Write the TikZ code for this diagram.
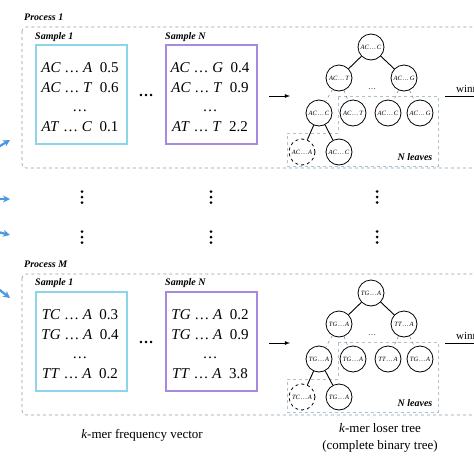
\documentclass[tikz,border=0pt]{standalone}
\usepackage{fontspec}
\setmainfont{Liberation Serif}
\usetikzlibrary{arrows.meta,shadows}

\definecolor{sampblue}{HTML}{8DD3EA}
\definecolor{samppurple}{HTML}{A78AE0}
\definecolor{procgray}{HTML}{8C9CAA}
\definecolor{leafgray}{HTML}{A9C2CE}
\definecolor{arrblue}{HTML}{4A98E0}

\begin{document}
\begin{tikzpicture}[x=1pt, y=-1pt,
    proc/.style={draw=procgray, dashed, rounded corners=4pt, line width=0.6pt},
    lbl/.style={font=\fontsize{10}{12}\selectfont\bfseries\itshape, inner sep=0pt, anchor=west},
    samp/.style={draw=#1, line width=1.4pt, fill=white, minimum width=91pt, minimum height=99pt,
                 drop shadow={opacity=0.25, shadow xshift=1pt, shadow yshift=-1pt}},
    rows/.style={font=\fontsize{15}{19.5}\selectfont, align=center, inner sep=0pt},
    kn/.style={draw, circle, line width=0.8pt, minimum size=26pt, inner sep=0pt,
               font=\fontsize{6.5}{7}\selectfont\itshape},
    kd/.style={kn, dashed},
    solid edge/.style={line width=0.9pt},
    dash edge/.style={draw=gray, dashed, line width=0.5pt},
    leaves/.style={draw=leafgray, dashed, line width=0.6pt},
    vdot/.style={circle, fill, inner sep=0pt, minimum size=3pt},
    bigarr/.style={arrblue, line width=2.2pt, -{Stealth[length=7pt, width=7pt]}},
    captxt/.style={font=\fontsize{13}{17}\selectfont, align=center, inner sep=0pt}]

    \useasboundingbox (0,0) rectangle (474,474);
    \clip (0,0) rectangle (474,474);

    % incoming arrows at the left edge
    \coordinate (i1s) at (-10,152); \coordinate (i1e) at (10,140);
    \coordinate (i2s) at (-10,199); \coordinate (i2e) at (10,199);
    \coordinate (i3s) at (-10,230); \coordinate (i3e) at (10,235);
    \coordinate (i4s) at (-8,284);  \coordinate (i4e) at (10,298);
    \draw[bigarr] (i1s) -- (i1e);
    \draw[bigarr] (i2s) -- (i2e);
    \draw[bigarr] (i3s) -- (i3e);
    \draw[bigarr] (i4s) -- (i4e);

    % ---------- Process 1 ----------
    \draw[proc] (22,27) rectangle (495,168);
    \node[lbl] (p1) at (24,17) {Process 1};
    \node[lbl] (p1s1l) at (35,37) {Sample 1};
    \node[lbl] (p1sNl) at (165,37) {Sample N};
    \node[samp=sampblue]   (p1s1) at (81.5,94.5) {};
    \node[samp=samppurple] (p1sN) at (211.5,94.5) {};
    \node[rows] (p1r1) at (80,97) {\textit{AC} … \textit{A}\enspace 0.5\\ \textit{AC} … \textit{T}\enspace 0.6\\ …\\ \textit{AT} … \textit{C}\enspace 0.1};
    \node[rows] (p1rN) at (210,97) {\textit{AC} … \textit{G}\enspace 0.4\\ \textit{AC} … \textit{T}\enspace 0.9\\ …\\ \textit{AT} … \textit{T}\enspace 2.2};
    \node[rows] (p1dots) at (146,95) {\textbf{…}};
    \coordinate (p1as) at (269,96); \coordinate (p1ae) at (290,96);
    \draw[line width=0.8pt, -latex] (p1as) -- (p1ae);

    \draw[leaves] (338,96) -- (438,96) -- (438,166) -- (287,166) -- (287,133) -- (338,133) -- cycle;
    \node[kn] (t1r)  at (371,47)  {AC\,…\,C};
    \node[kn] (t1a)  at (339,78)  {AC\,…\,T};
    \node[kn] (t1b)  at (404,78)  {AC\,…\,G};
    \node[kn] (t1aa) at (319,113) {AC\,…\,C};
    \node[kn] (t1ab) at (353,113) {AC\,…\,T};
    \node[kn] (t1ba) at (388,113) {AC\,…\,C};
    \node[kn] (t1bb) at (420,113) {AC\,…\,G};
    \node[kd] (t1x)  at (302,152) {AC\,…\,A};
    \node[kn] (t1y)  at (339,152) {AC\,…\,C};
    \node[font=\fontsize{8}{8}\selectfont, inner sep=0pt] (t1dots) at (372,89) {…};
    \node[lbl, anchor=center] (t1n) at (415,157) {N leaves};
    \draw[solid edge] (t1r) -- (t1a);
    \draw[solid edge] (t1r) -- (t1b);
    \draw[dash edge] (t1a) -- (t1aa);
    \draw[dash edge] (t1a) -- (t1ab);
    \draw[dash edge] (t1b) -- (t1ba);
    \draw[dash edge] (t1b) -- (t1bb);
    \draw[solid edge] (t1aa) -- (t1x);
    \draw[solid edge] (t1aa) -- (t1y);
    \coordinate (w1s) at (445,96); \coordinate (w1e) at (500,96);
    \draw[line width=0.8pt, -latex] (w1s) -- node[above, font=\fontsize{11}{11}\selectfont, xshift=-1pt] {winner} (w1e);

    % ---------- vertical dots ----------
    \foreach \vx in {82,211,377}
      \foreach \vy in {197,237}
      {
        \node[vdot] at (\vx,\vy-5.5) {};
        \node[vdot] at (\vx,\vy) {};
        \node[vdot] at (\vx,\vy+5.5) {};
      }

    % ---------- Process M ----------
    \draw[proc] (22,274) rectangle (495,415);
    \node[lbl] (pM) at (24,264) {Process M};
    \node[lbl] (pMs1l) at (35,283) {Sample 1};
    \node[lbl] (pMsNl) at (165,283) {Sample N};
    \node[samp=sampblue]   (pMs1) at (81.5,341.5) {};
    \node[samp=samppurple] (pMsN) at (211.5,341.5) {};
    \node[rows] (pMr1) at (80,344) {\textit{TC} … \textit{A}\enspace 0.3\\ \textit{TG} … \textit{A}\enspace 0.4\\ …\\ \textit{TT} … \textit{A}\enspace 0.2};
    \node[rows] (pMrN) at (210,344) {\textit{TG} … \textit{A}\enspace 0.2\\ \textit{TG} … \textit{A}\enspace 0.9\\ …\\ \textit{TT} … \textit{A}\enspace 3.8};
    \node[rows] (pMdots) at (146,342) {\textbf{…}};
    \coordinate (pMas) at (269,343); \coordinate (pMae) at (290,343);
    \draw[line width=0.8pt, -latex] (pMas) -- (pMae);

    \draw[leaves] (338,342) -- (438,342) -- (438,412) -- (287,412) -- (287,379) -- (338,379) -- cycle;
    \node[kn] (t2r)  at (371,293) {TG\,…\,A};
    \node[kn] (t2a)  at (339,324) {TG\,…\,A};
    \node[kn] (t2b)  at (404,324) {TT\,…\,A};
    \node[kn] (t2aa) at (319,359) {TG\,…\,A};
    \node[kn] (t2ab) at (353,359) {TG\,…\,A};
    \node[kn] (t2ba) at (388,359) {TT\,…\,A};
    \node[kn] (t2bb) at (420,359) {TG\,…\,A};
    \node[kd] (t2x)  at (302,397) {TC\,…\,A};
    \node[kn] (t2y)  at (339,397) {TG\,…\,A};
    \node[font=\fontsize{8}{8}\selectfont, inner sep=0pt] (t2dots) at (372,335) {…};
    \node[lbl, anchor=center] (t2n) at (415,403) {N leaves};
    \draw[solid edge] (t2r) -- (t2a);
    \draw[solid edge] (t2r) -- (t2b);
    \draw[dash edge] (t2a) -- (t2aa);
    \draw[dash edge] (t2a) -- (t2ab);
    \draw[dash edge] (t2b) -- (t2ba);
    \draw[dash edge] (t2b) -- (t2bb);
    \draw[solid edge] (t2aa) -- (t2x);
    \draw[solid edge] (t2aa) -- (t2y);
    \coordinate (w2s) at (445,343); \coordinate (w2e) at (500,343);
    \draw[line width=0.8pt, -latex] (w2s) -- node[above, font=\fontsize{11}{11}\selectfont, xshift=-1pt] {winner} (w2e);

    % ---------- captions ----------
    \node[captxt] (c1) at (142,435) {\textit{k}-mer frequency vector};
    \node[captxt] (c2) at (380,438) {\textit{k}-mer loser tree\\(complete binary tree)};
\end{tikzpicture}
\end{document}
